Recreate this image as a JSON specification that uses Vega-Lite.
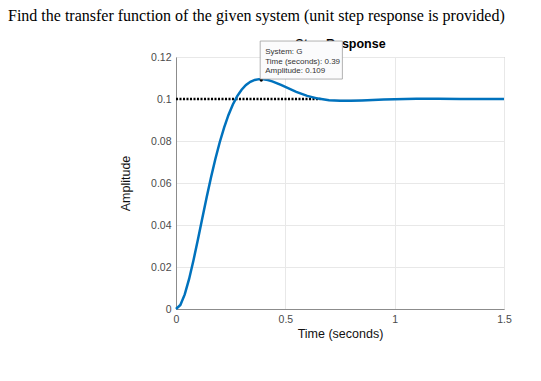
{
  "$schema": "https://vega.github.io/schema/vega-lite/v6.json",
  "width": 328,
  "height": 252,
  "autosize": "none",
  "padding": {"left": 176, "top": 57, "right": 37, "bottom": 72},
  "background": "white",
  "config": {
    "font": "Liberation Sans",
    "view": {"stroke": "#a8a8a8", "strokeWidth": 1},
    "axis": {
      "gridColor": "#e8e8e8",
      "domainColor": "#8c8c8c",
      "ticks": false,
      "labelColor": "#4a4a4a",
      "labelFontSize": 10.5,
      "titleFontWeight": "normal",
      "titleColor": "#111111",
      "titleFontSize": 12.5
    }
  },
  "title": {
    "text": "Find the transfer function of the given system (unit step response is provided)",
    "anchor": "start",
    "frame": "group",
    "dx": -168,
    "font": "Liberation Serif",
    "fontSize": 16,
    "fontWeight": "normal",
    "color": "#000000",
    "offset": 13
  },
  "datasets": {
    "response": [
      {"t": 0, "amp": 0},
      {"t": 0.02, "amp": 0.0019},
      {"t": 0.04, "amp": 0.00696},
      {"t": 0.06, "amp": 0.01432},
      {"t": 0.08, "amp": 0.02321},
      {"t": 0.10, "amp": 0.03298},
      {"t": 0.12, "amp": 0.04308},
      {"t": 0.14, "amp": 0.05306},
      {"t": 0.16, "amp": 0.06261},
      {"t": 0.18, "amp": 0.07145},
      {"t": 0.20, "amp": 0.07942},
      {"t": 0.22, "amp": 0.08641},
      {"t": 0.24, "amp": 0.0924},
      {"t": 0.26, "amp": 0.09739},
      {"t": 0.28, "amp": 0.10136},
      {"t": 0.30, "amp": 0.10444},
      {"t": 0.32, "amp": 0.10669},
      {"t": 0.34, "amp": 0.1082},
      {"t": 0.36, "amp": 0.10909},
      {"t": 0.38, "amp": 0.10946},
      {"t": 0.40, "amp": 0.1094},
      {"t": 0.42, "amp": 0.10901},
      {"t": 0.44, "amp": 0.10838},
      {"t": 0.46, "amp": 0.10758},
      {"t": 0.48, "amp": 0.10668},
      {"t": 0.50, "amp": 0.10572},
      {"t": 0.55, "amp": 0.10341},
      {"t": 0.60, "amp": 0.1015},
      {"t": 0.65, "amp": 0.10019},
      {"t": 0.70, "amp": 0.09944},
      {"t": 0.75, "amp": 0.09912},
      {"t": 0.80, "amp": 0.09913},
      {"t": 0.85, "amp": 0.09929},
      {"t": 0.90, "amp": 0.09952},
      {"t": 0.95, "amp": 0.09973},
      {"t": 1.00, "amp": 0.0999},
      {"t": 1.05, "amp": 0.10001},
      {"t": 1.10, "amp": 0.10006},
      {"t": 1.20, "amp": 0.10008},
      {"t": 1.30, "amp": 0.10004},
      {"t": 1.40, "amp": 0.1},
      {"t": 1.50, "amp": 0.1}
    ],
    "steady": [{"t0": 0, "t1": 0.66, "amp": 0.1}],
    "peak": [{"t": 0.39, "amp": 0.109}]
  },
  "layer": [
    {
      "data": {"name": "steady"},
      "mark": {"type": "rule", "color": "#000000", "strokeWidth": 2.5, "strokeDash": [2, 1.5]},
      "encoding": {
        "x": {
          "field": "t0", "type": "quantitative",
          "scale": {"domain": [0, 1.5], "nice": false, "zero": false},
          "axis": {
            "title": "Time (seconds)",
            "values": [0, 0.5, 1, 1.5],
            "labelExpr": "format(datum.value, '~g')",
            "labelPadding": 5,
            "titlePadding": 3,
            "labelFlush": false
          }
        },
        "x2": {"field": "t1"},
        "y": {
          "field": "amp", "type": "quantitative",
          "scale": {"domain": [0, 0.12], "nice": false, "zero": false},
          "axis": {
            "title": "Amplitude",
            "values": [0, 0.02, 0.04, 0.06, 0.08, 0.1, 0.12],
            "labelExpr": "format(datum.value, '~g')",
            "labelPadding": 5,
            "titlePadding": 18,
            "labelFlush": false
          }
        }
      }
    },
    {
      "data": {"name": "response"},
      "mark": {"type": "line", "color": "#0072BD", "strokeWidth": 2.5, "clip": false},
      "encoding": {
        "x": {"field": "t", "type": "quantitative", "axis": null},
        "y": {"field": "amp", "type": "quantitative"}
      }
    },
    {
      "data": {"name": "peak"},
      "mark": {"type": "point", "filled": true, "color": "#000000", "size": 10, "opacity": 1},
      "encoding": {
        "x": {"field": "t", "type": "quantitative", "axis": null},
        "y": {"field": "amp", "type": "quantitative"}
      }
    },
    {
      "data": {"values": [{}]},
      "mark": {"type": "rect", "fill": "#fbfbfc", "stroke": "#a0a0a0", "strokeWidth": 0.8},
      "encoding": {
        "x": {
          "datum": 0.385, "type": "quantitative",
          "axis": {
            "orient": "top",
            "labels": false,
            "ticks": false,
            "domain": false,
            "grid": false,
            "title": "Step Response",
            "titleFontWeight": "bold",
            "titleFontSize": 12.5,
            "titleColor": "#000000",
            "titlePadding": 7
          }
        },
        "x2": {"datum": 0.761},
        "y": {"datum": 0.1095, "type": "quantitative"},
        "y2": {"datum": 0.1276}
      }
    },
    {
      "data": {"values": [{}]},
      "mark": {
        "type": "text",
        "text": ["System: G", "Time (seconds): 0.39", "Amplitude: 0.109"],
        "align": "left",
        "baseline": "top",
        "dx": 5,
        "dy": 7,
        "fontSize": 8,
        "lineHeight": 9.5,
        "color": "#333333"
      },
      "encoding": {
        "x": {"datum": 0.385, "type": "quantitative", "axis": null},
        "y": {"datum": 0.1276, "type": "quantitative"}
      }
    }
  ],
  "resolve": {"axis": {"x": "independent"}}
}
